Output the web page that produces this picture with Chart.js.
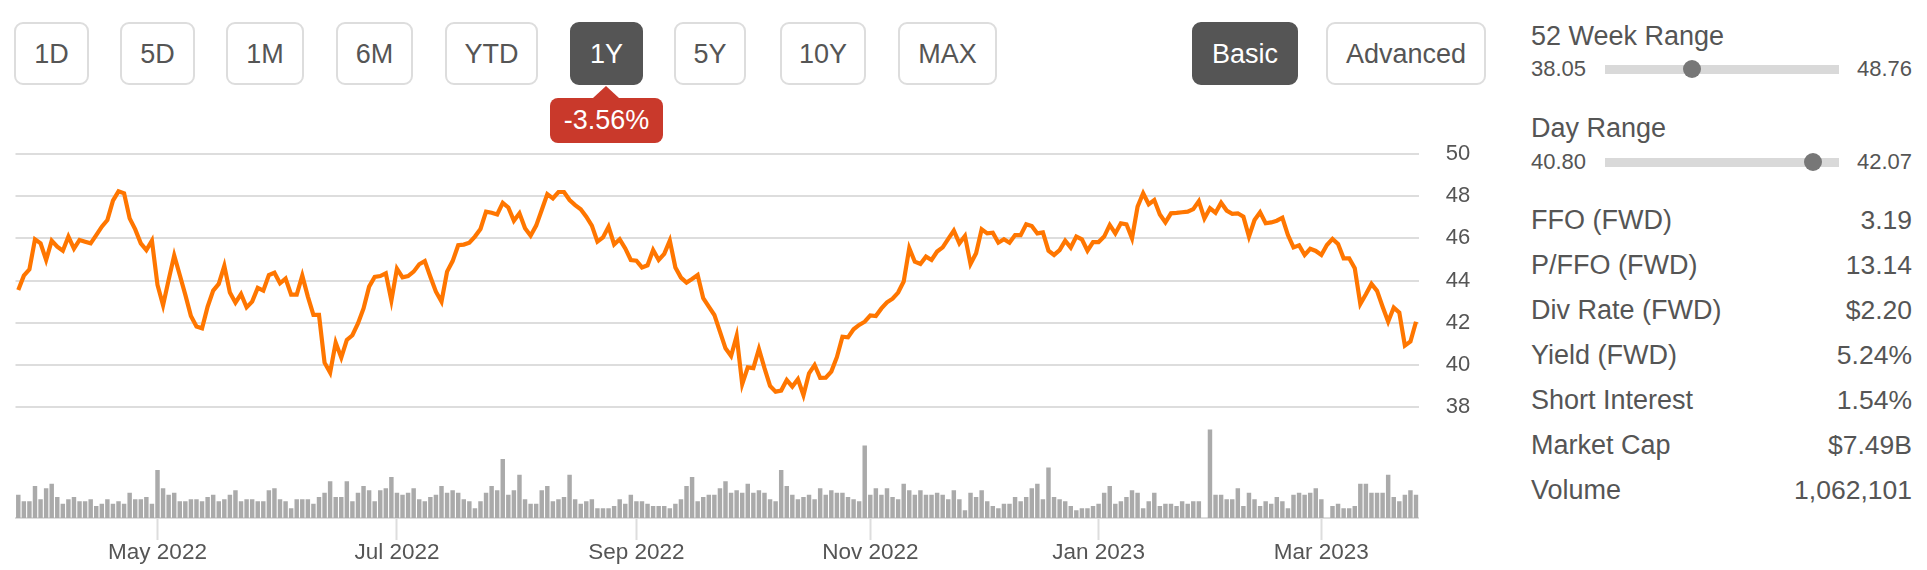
<!DOCTYPE html>
<html>
<head>
<meta charset="utf-8">
<script src="https://cdn.jsdelivr.net/npm/chart.js@4/dist/chart.umd.min.js"></script>
<style>
html, body { margin: 0; padding: 0; background: #fff; }
body { width: 1927px; height: 570px; position: relative; overflow: hidden; font-family: "Liberation Sans", Arial, sans-serif; color: #555; }
#wrap { position: absolute; left: 0; top: 0; width: 1500px; height: 570px; }
.btn { position: absolute; top: 22px; height: 63px; line-height: 60px; box-sizing: border-box; border: 2px solid #ddd; border-radius: 9px; text-align: center; font-size: 27px; background: #fff; }
.btn.on { background: #555; border-color: #555; color: #fff; }
#change { position: absolute; left: 550px; top: 98px; width: 113px; height: 45px; line-height: 44px; border-radius: 8px; background: #c9392b; color: #fff; text-align: center; font-size: 27px; }
#arrow { position: absolute; left: 593px; top: 86px; width: 0; height: 0; border-left: 13px solid transparent; border-right: 13px solid transparent; border-bottom: 12px solid #c9392b; }
.t { position: absolute; white-space: nowrap; transform: translateY(-50%); }
.lbl { left: 1531px; font-size: 27px; }
.val { right: 15px; font-size: 26.5px; }
.sm { font-size: 22px; }
.track { position: absolute; left: 1605px; width: 234px; height: 9px; background: #d9d9d9; }
.knob { position: absolute; width: 18px; height: 18px; border-radius: 50%; background: #777; }
</style>
</head>
<body>
<div class="btn" style="left:14px;width:75px">1D</div>
<div class="btn" style="left:120px;width:75px">5D</div>
<div class="btn" style="left:226px;width:78px">1M</div>
<div class="btn" style="left:336px;width:77px">6M</div>
<div class="btn" style="left:445px;width:93px">YTD</div>
<div class="btn on" style="left:570px;width:73px">1Y</div>
<div class="btn" style="left:674px;width:72px">5Y</div>
<div class="btn" style="left:780px;width:86px">10Y</div>
<div class="btn" style="left:898px;width:99px">MAX</div>
<div class="btn on" style="left:1192px;width:106px">Basic</div>
<div class="btn" style="left:1326px;width:160px">Advanced</div>
<div id="arrow"></div>
<div id="change">-3.56%</div>

<div id="wrap"><canvas id="chart"></canvas></div>

<div class="t lbl" style="top:36px">52 Week Range</div>
<div class="t lbl sm" style="top:69px">38.05</div>
<div class="track" style="top:65px"></div>
<div class="knob" style="left:1683px;top:60px"></div>
<div class="t val sm" style="top:69px">48.76</div>

<div class="t lbl" style="top:128px">Day Range</div>
<div class="t lbl sm" style="top:162px">40.80</div>
<div class="track" style="top:158px"></div>
<div class="knob" style="left:1804px;top:153px"></div>
<div class="t val sm" style="top:162px">42.07</div>

<div id="stats"></div>

<script>
// daily close
const price = [
  43.55,44.23,44.53,45.95,45.76,44.97,45.89,45.60,45.41,46.08,45.51,45.92,45.84,45.76,46.15,46.55,46.86,47.78,48.22,48.13,
  46.94,46.42,45.76,45.44,45.89,43.79,42.83,44.03,45.19,44.26,43.32,42.32,41.82,41.74,42.76,43.52,43.84,44.69,43.43,42.95,
  43.36,42.73,43.00,43.65,43.52,44.26,44.37,43.87,44.09,43.33,43.33,
  44.23,43.24,42.37,42.37,40.11,39.64,41.06,40.35,41.19,41.41,41.97,42.68,43.71,44.17,44.21,44.34,43.05,44.56,44.15,44.21,
  44.42,44.77,44.92,44.18,43.47,43.00,44.42,44.92,45.67,45.70,45.79,46.08,46.44,47.26,47.21,47.13,47.68,47.46,46.83,47.18,
  46.47,46.12,46.60,47.34,48.09,47.89,48.19,48.19,47.81,47.57,47.37,
  47.02,46.60,45.84,46.04,46.55,45.71,45.95,45.52,44.97,44.94,44.62,44.72,45.44,44.97,45.26,45.89,44.62,44.14,43.90,44.07,
  44.26,43.16,42.76,42.37,41.58,40.79,40.43,41.38,39.10,39.89,39.85,40.76,39.85,39.01,38.74,38.79,39.29,38.98,39.33,38.57,
  39.61,40.00,39.39,39.40,39.69,40.37,41.34,41.31,41.69,41.90,
  42.05,42.35,42.32,42.68,42.97,43.14,43.43,43.95,45.53,44.89,44.78,45.13,44.97,45.37,45.57,45.97,46.36,45.76,46.11,44.78,
  45.29,46.42,46.23,46.26,45.79,45.95,45.79,46.15,46.15,46.66,46.58,46.23,46.28,45.41,45.21,45.44,45.89,45.56,46.08,45.95,
  45.41,45.82,45.82,46.08,46.63,46.23,46.71,46.66,46.00,
  47.50,48.13,47.61,47.81,47.13,46.75,47.18,47.20,47.23,47.26,47.38,47.76,46.94,47.42,47.21,47.68,47.31,47.16,47.18,47.02,
  46.08,46.86,47.23,46.71,46.75,46.83,46.97,46.15,45.57,45.67,45.21,45.50,45.40,45.21,45.68,45.97,45.73,45.05,45.05,44.58,
  42.89,43.35,43.84,43.51,42.76,42.05,42.72,42.48,40.92,41.11,42.05
];

// volume in millions of shares, 0 where the picture has no bar
const volume = [
  1.06,.76,.76,1.45,.85,1.35,1.56,.95,.65,.85,
  .95,.76,.76,.85,.55,.65,.85,.65,.76,.65,
  1.15,.85,.85,.95,.65,2.18,1.35,1.06,1.15,.76,
  .76,.85,.85,.76,.95,1.06,.76,.85,1.06,1.26,
  .76,.85,.85,.76,.76,1.26,1.35,.85,.76,.44,
  .85,.85,.85,.65,.95,1.15,1.67,.95,.95,1.67,
  .76,1.15,1.45,1.26,.76,1.26,1.35,1.86,1.15,1.06,
  1.15,1.35,.85,.76,.95,1.06,1.45,1.15,1.26,1.15,
  .85,.76,.44,.76,1.15,1.45,1.26,
  2.68,1.06,1.26,1.97,.85,.65,.65,1.26,1.45,.76,
  .85,.95,1.97,.85,.65,.76,.85,.44,.44,.44,
  .55,.85,.65,1.06,.76,.76,.65,.55,.55,.55,
  .44,.65,.85,1.45,1.86,.76,.95,1.06,1.06,1.35,
  1.67,1.15,1.26,1.15,1.56,1.15,1.26,1.15,.85,.76,
  2.18,1.45,1.06,.85,.95,1.06,.85,1.35,1.06,1.26,
  1.15,1.15,.95,.85,.76,3.30,
  1.06,1.35,1.06,1.35,.95,.85,1.56,1.26,1.06,1.26,
  1.06,1.06,1.15,1.06,.85,1.26,.85,.35,1.15,.95,
  1.26,.76,.55,.44,
  .65,.65,.95,.76,.95,1.35,1.56,.85,2.29,.95,
  .85,.76,.55,.35,.44,.44,.55,.65,1.15,1.45,
  .65,.76,.95,1.26,1.15,.44,.76,1.15,.55,.65,
  .65,.55,.76,.65,.76,.76,0,4.02,1.06,1.06,.85,.85,
  1.35,.55,1.15,.85,.55,.76,.65,.95,.76,.44,
  1.06,1.15,1.06,1.15,1.35,.85,0,
  .55,.65,.44,.44,.55,1.56,1.56,1.15,1.15,1.15,
  1.97,.95,.76,1.06,1.26,1.06
];

const priceTicks = [38, 40, 42, 44, 46, 48, 50];
const monthIndex = [25, 68, 111, 153, 194, 234];
const monthLabels = ['May 2022', 'Jul 2022', 'Sep 2022', 'Nov 2022', 'Jan 2023', 'Mar 2023'];

const statNames = ['FFO (FWD)', 'P/FFO (FWD)', 'Div Rate (FWD)', 'Yield (FWD)', 'Short Interest', 'Market Cap', 'Volume'];
const statValues = ['3.19', '13.14', '$2.20', '5.24%', '1.54%', '$7.49B', '1,062,101'];

// right hand table
const stats = document.getElementById('stats');
statNames.forEach((name, i) => {
    const top = 220 + i * 45;
    stats.innerHTML += `<div class="t lbl" style="top:${top}px">${name}</div><div class="t val" style="top:${top}px">${statValues[i]}</div>`;
});

const labels = price.map((_, i) => {
    const m = monthIndex.indexOf(i);
    return m >= 0 ? monthLabels[m] : '';
});

new Chart(document.getElementById('chart'), {
    data: {
        labels: labels,
        datasets: [
            {
                type: 'line',
                data: price,
                yAxisID: 'y',
                borderColor: '#ff7600',
                borderWidth: 4.2,
                pointRadius: 0,
                tension: 0,
                order: 1
            },
            {
                type: 'bar',
                data: volume,
                yAxisID: 'vol',
                backgroundColor: '#aaaaaa',
                barPercentage: 0.8,
                categoryPercentage: 1,
                order: 2
            }
        ]
    },
    options: {
        responsive: true,
        maintainAspectRatio: false,
        animation: false,
        layout: { padding: { left: 15.5, top: 151 } },
        plugins: { legend: { display: false }, tooltip: { enabled: false } },
        scales: {
            x: {
                offset: true,
                grid: { offset: false, drawOnChartArea: false, tickLength: 22, tickWidth: 2, tickColor: '#ddd' },
                border: { color: '#ddd', width: 2 },
                afterBuildTicks: s => { s.ticks = monthIndex.map(v => ({ value: v })); },
                afterFit: s => { s.height = 52; },
                ticks: {
                    autoSkip: false,
                    maxRotation: 0,
                    padding: -1,
                    color: '#555',
                    font: { family: '"Liberation Sans", Arial, sans-serif', size: 22.5 }
                }
            },
            y: {
                position: 'right',
                min: 32.76,
                max: 50.13,
                grid: { color: '#ddd', lineWidth: 2, drawTicks: false },
                border: { display: false },
                afterBuildTicks: s => { s.ticks = priceTicks.map(v => ({ value: v })); },
                afterFit: s => { s.width = 81.2; },
                ticks: {
                    padding: 27,
                    color: '#555',
                    font: { family: '"Liberation Sans", Arial, sans-serif', size: 22 }
                }
            },
            vol: {
                display: false,
                min: 0,
                max: 16.68
            }
        }
    }
});
</script>
</body>
</html>
